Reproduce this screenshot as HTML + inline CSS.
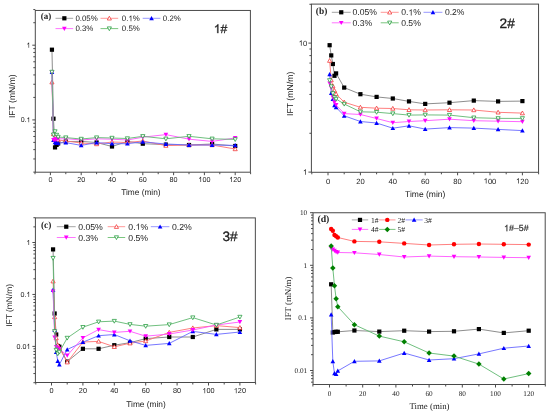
<!DOCTYPE html>
<html><head><meta charset="utf-8"><title>IFT vs time</title>
<style>
html,body{margin:0;padding:0;background:#fff;}
body{width:550px;height:415px;overflow:hidden;font-family:"Liberation Sans", sans-serif;}
svg{display:block;-webkit-font-smoothing:antialiased;will-change:transform;text-rendering:geometricPrecision;}
text{-webkit-font-smoothing:antialiased;}
</style></head><body>
<svg width="550" height="415" viewBox="0 0 550 415"><polyline points="51.94,49.7 53.48,118.7 55.02,147.4 56.56,144.9 58.1,143.5 65.8,141.5 81.2,141.4 96.6,142.5 112,146.5 127.4,141.4 142.8,143.7 165.9,144.6 189,145 212.1,144 235.2,146" fill="none" stroke="#808080" stroke-width="0.9"/><rect x="49.84" y="47.6" width="4.2" height="4.2" fill="#000000"/><rect x="51.38" y="116.6" width="4.2" height="4.2" fill="#000000"/><rect x="52.92" y="145.3" width="4.2" height="4.2" fill="#000000"/><rect x="54.46" y="142.8" width="4.2" height="4.2" fill="#000000"/><rect x="56" y="141.4" width="4.2" height="4.2" fill="#000000"/><rect x="63.7" y="139.4" width="4.2" height="4.2" fill="#000000"/><rect x="79.1" y="139.3" width="4.2" height="4.2" fill="#000000"/><rect x="94.5" y="140.4" width="4.2" height="4.2" fill="#000000"/><rect x="109.9" y="144.4" width="4.2" height="4.2" fill="#000000"/><rect x="125.3" y="139.3" width="4.2" height="4.2" fill="#000000"/><rect x="140.7" y="141.6" width="4.2" height="4.2" fill="#000000"/><rect x="163.8" y="142.5" width="4.2" height="4.2" fill="#000000"/><rect x="186.9" y="142.9" width="4.2" height="4.2" fill="#000000"/><rect x="210" y="141.9" width="4.2" height="4.2" fill="#000000"/><rect x="233.1" y="143.9" width="4.2" height="4.2" fill="#000000"/><polyline points="51.94,82.2 53.48,134 55.02,139.5 56.56,140.5 58.1,140 65.8,141 81.2,143 96.6,144 112,142 127.4,142.5 142.8,141 165.9,145.6 189,145 212.1,145 235.2,149" fill="none" stroke="#ff7070" stroke-width="0.9"/><path d="M51.94 80.12L54.02 83.9L49.86 83.9Z" fill="#fff" stroke="#f03030" stroke-width="0.75"/><path d="M53.48 131.92L55.56 135.7L51.4 135.7Z" fill="#fff" stroke="#f03030" stroke-width="0.75"/><path d="M55.02 137.42L57.1 141.2L52.94 141.2Z" fill="#fff" stroke="#f03030" stroke-width="0.75"/><path d="M56.56 138.42L58.64 142.2L54.48 142.2Z" fill="#fff" stroke="#f03030" stroke-width="0.75"/><path d="M58.1 137.92L60.18 141.7L56.02 141.7Z" fill="#fff" stroke="#f03030" stroke-width="0.75"/><path d="M65.8 138.92L67.88 142.7L63.72 142.7Z" fill="#fff" stroke="#f03030" stroke-width="0.75"/><path d="M81.2 140.92L83.28 144.7L79.12 144.7Z" fill="#fff" stroke="#f03030" stroke-width="0.75"/><path d="M96.6 141.92L98.68 145.7L94.52 145.7Z" fill="#fff" stroke="#f03030" stroke-width="0.75"/><path d="M112 139.92L114.08 143.7L109.92 143.7Z" fill="#fff" stroke="#f03030" stroke-width="0.75"/><path d="M127.4 140.42L129.48 144.2L125.32 144.2Z" fill="#fff" stroke="#f03030" stroke-width="0.75"/><path d="M142.8 138.92L144.88 142.7L140.72 142.7Z" fill="#fff" stroke="#f03030" stroke-width="0.75"/><path d="M165.9 143.52L167.98 147.3L163.82 147.3Z" fill="#fff" stroke="#f03030" stroke-width="0.75"/><path d="M189 142.92L191.08 146.7L186.92 146.7Z" fill="#fff" stroke="#f03030" stroke-width="0.75"/><path d="M212.1 142.92L214.18 146.7L210.02 146.7Z" fill="#fff" stroke="#f03030" stroke-width="0.75"/><path d="M235.2 146.92L237.28 150.7L233.12 150.7Z" fill="#fff" stroke="#f03030" stroke-width="0.75"/><polyline points="51.94,72 53.48,140 55.02,142.3 56.56,143 58.1,143 65.8,142.6 81.2,145.4 96.6,142.6 112,143.7 127.4,143.7 142.8,141.9 165.9,144 189,145 212.1,145 235.2,145.4" fill="none" stroke="#6868ff" stroke-width="0.9"/><path d="M51.94 69.69L54.25 73.89L49.63 73.89Z" fill="#0000ff"/><path d="M53.48 137.69L55.79 141.89L51.17 141.89Z" fill="#0000ff"/><path d="M55.02 139.99L57.33 144.19L52.71 144.19Z" fill="#0000ff"/><path d="M56.56 140.69L58.87 144.89L54.25 144.89Z" fill="#0000ff"/><path d="M58.1 140.69L60.41 144.89L55.79 144.89Z" fill="#0000ff"/><path d="M65.8 140.29L68.11 144.49L63.49 144.49Z" fill="#0000ff"/><path d="M81.2 143.09L83.51 147.29L78.89 147.29Z" fill="#0000ff"/><path d="M96.6 140.29L98.91 144.49L94.29 144.49Z" fill="#0000ff"/><path d="M112 141.39L114.31 145.59L109.69 145.59Z" fill="#0000ff"/><path d="M127.4 141.39L129.71 145.59L125.09 145.59Z" fill="#0000ff"/><path d="M142.8 139.59L145.11 143.79L140.49 143.79Z" fill="#0000ff"/><path d="M165.9 141.69L168.21 145.89L163.59 145.89Z" fill="#0000ff"/><path d="M189 142.69L191.31 146.89L186.69 146.89Z" fill="#0000ff"/><path d="M212.1 142.69L214.41 146.89L209.79 146.89Z" fill="#0000ff"/><path d="M235.2 143.09L237.51 147.29L232.89 147.29Z" fill="#0000ff"/><polyline points="51.94,72.5 53.48,139.8 55.02,140 56.56,139 58.1,139 65.8,138.6 81.2,140 96.6,138.8 112,139.2 127.4,140 142.8,137.2 165.9,134.6 189,139.2 212.1,141.4 235.2,138" fill="none" stroke="#ff55ff" stroke-width="0.9"/><path d="M51.94 74.81L54.25 70.61L49.63 70.61Z" fill="#ff00ff"/><path d="M53.48 142.11L55.79 137.91L51.17 137.91Z" fill="#ff00ff"/><path d="M55.02 142.31L57.33 138.11L52.71 138.11Z" fill="#ff00ff"/><path d="M56.56 141.31L58.87 137.11L54.25 137.11Z" fill="#ff00ff"/><path d="M58.1 141.31L60.41 137.11L55.79 137.11Z" fill="#ff00ff"/><path d="M65.8 140.91L68.11 136.71L63.49 136.71Z" fill="#ff00ff"/><path d="M81.2 142.31L83.51 138.11L78.89 138.11Z" fill="#ff00ff"/><path d="M96.6 141.11L98.91 136.91L94.29 136.91Z" fill="#ff00ff"/><path d="M112 141.51L114.31 137.31L109.69 137.31Z" fill="#ff00ff"/><path d="M127.4 142.31L129.71 138.11L125.09 138.11Z" fill="#ff00ff"/><path d="M142.8 139.51L145.11 135.31L140.49 135.31Z" fill="#ff00ff"/><path d="M165.9 136.91L168.21 132.71L163.59 132.71Z" fill="#ff00ff"/><path d="M189 141.51L191.31 137.31L186.69 137.31Z" fill="#ff00ff"/><path d="M212.1 143.71L214.41 139.51L209.79 139.51Z" fill="#ff00ff"/><path d="M235.2 140.31L237.51 136.11L232.89 136.11Z" fill="#ff00ff"/><polyline points="51.94,72 53.48,134.7 55.02,131.5 56.56,135 58.1,137 65.8,137.6 81.2,139 96.6,137.6 112,138 127.4,138.5 142.8,136.3 165.9,138.8 189,136.3 212.1,138.8 235.2,139.4" fill="none" stroke="#60b870" stroke-width="0.9"/><path d="M51.94 74.08L54.02 70.3L49.86 70.3Z" fill="#fff" stroke="#1f9a3a" stroke-width="0.75"/><path d="M53.48 136.78L55.56 133L51.4 133Z" fill="#fff" stroke="#1f9a3a" stroke-width="0.75"/><path d="M55.02 133.58L57.1 129.8L52.94 129.8Z" fill="#fff" stroke="#1f9a3a" stroke-width="0.75"/><path d="M56.56 137.08L58.64 133.3L54.48 133.3Z" fill="#fff" stroke="#1f9a3a" stroke-width="0.75"/><path d="M58.1 139.08L60.18 135.3L56.02 135.3Z" fill="#fff" stroke="#1f9a3a" stroke-width="0.75"/><path d="M65.8 139.68L67.88 135.9L63.72 135.9Z" fill="#fff" stroke="#1f9a3a" stroke-width="0.75"/><path d="M81.2 141.08L83.28 137.3L79.12 137.3Z" fill="#fff" stroke="#1f9a3a" stroke-width="0.75"/><path d="M96.6 139.68L98.68 135.9L94.52 135.9Z" fill="#fff" stroke="#1f9a3a" stroke-width="0.75"/><path d="M112 140.08L114.08 136.3L109.92 136.3Z" fill="#fff" stroke="#1f9a3a" stroke-width="0.75"/><path d="M127.4 140.58L129.48 136.8L125.32 136.8Z" fill="#fff" stroke="#1f9a3a" stroke-width="0.75"/><path d="M142.8 138.38L144.88 134.6L140.72 134.6Z" fill="#fff" stroke="#1f9a3a" stroke-width="0.75"/><path d="M165.9 140.88L167.98 137.1L163.82 137.1Z" fill="#fff" stroke="#1f9a3a" stroke-width="0.75"/><path d="M189 138.38L191.08 134.6L186.92 134.6Z" fill="#fff" stroke="#1f9a3a" stroke-width="0.75"/><path d="M212.1 140.88L214.18 137.1L210.02 137.1Z" fill="#fff" stroke="#1f9a3a" stroke-width="0.75"/><path d="M235.2 141.48L237.28 137.7L233.12 137.7Z" fill="#fff" stroke="#1f9a3a" stroke-width="0.75"/><rect x="35.3" y="10.45" width="215.1" height="161.75" fill="none" stroke="#4a4a4a" stroke-width="1"/><line x1="35" y1="172.2" x2="35" y2="174.2" stroke="#4a4a4a" stroke-width="1"/><line x1="50.4" y1="172.2" x2="50.4" y2="175.2" stroke="#4a4a4a" stroke-width="1"/><text x="50.4" y="182" font-family='"Liberation Sans", sans-serif' font-size="7.2" text-anchor="middle" font-weight="normal" fill="#222">0</text><line x1="65.8" y1="172.2" x2="65.8" y2="174.2" stroke="#4a4a4a" stroke-width="1"/><line x1="81.2" y1="172.2" x2="81.2" y2="175.2" stroke="#4a4a4a" stroke-width="1"/><text x="81.2" y="182" font-family='"Liberation Sans", sans-serif' font-size="7.2" text-anchor="middle" font-weight="normal" fill="#222">20</text><line x1="96.6" y1="172.2" x2="96.6" y2="174.2" stroke="#4a4a4a" stroke-width="1"/><line x1="112" y1="172.2" x2="112" y2="175.2" stroke="#4a4a4a" stroke-width="1"/><text x="112" y="182" font-family='"Liberation Sans", sans-serif' font-size="7.2" text-anchor="middle" font-weight="normal" fill="#222">40</text><line x1="127.4" y1="172.2" x2="127.4" y2="174.2" stroke="#4a4a4a" stroke-width="1"/><line x1="142.8" y1="172.2" x2="142.8" y2="175.2" stroke="#4a4a4a" stroke-width="1"/><text x="142.8" y="182" font-family='"Liberation Sans", sans-serif' font-size="7.2" text-anchor="middle" font-weight="normal" fill="#222">60</text><line x1="158.2" y1="172.2" x2="158.2" y2="174.2" stroke="#4a4a4a" stroke-width="1"/><line x1="173.6" y1="172.2" x2="173.6" y2="175.2" stroke="#4a4a4a" stroke-width="1"/><text x="173.6" y="182" font-family='"Liberation Sans", sans-serif' font-size="7.2" text-anchor="middle" font-weight="normal" fill="#222">80</text><line x1="189" y1="172.2" x2="189" y2="174.2" stroke="#4a4a4a" stroke-width="1"/><line x1="204.4" y1="172.2" x2="204.4" y2="175.2" stroke="#4a4a4a" stroke-width="1"/><path d="M763 0L583 0L583 1147Q518 1085 412 1023Q307 961 223 930L223 1104Q374 1175 487 1276Q600 1377 647 1472L763 1472Z" transform="translate(198.4 182) scale(0.003516 -0.003516)" fill="#222"/><text x="202.4" y="182" font-family='"Liberation Sans", sans-serif' font-size="7.2" text-anchor="start" font-weight="normal" fill="#222">00</text><line x1="219.8" y1="172.2" x2="219.8" y2="174.2" stroke="#4a4a4a" stroke-width="1"/><line x1="235.2" y1="172.2" x2="235.2" y2="175.2" stroke="#4a4a4a" stroke-width="1"/><path d="M763 0L583 0L583 1147Q518 1085 412 1023Q307 961 223 930L223 1104Q374 1175 487 1276Q600 1377 647 1472L763 1472Z" transform="translate(229.2 182) scale(0.003516 -0.003516)" fill="#222"/><text x="233.2" y="182" font-family='"Liberation Sans", sans-serif' font-size="7.2" text-anchor="start" font-weight="normal" fill="#222">20</text><line x1="250.6" y1="172.2" x2="250.6" y2="174.2" stroke="#4a4a4a" stroke-width="1"/><line x1="33.3" y1="172.11" x2="35.3" y2="172.11" stroke="#4a4a4a" stroke-width="1"/><line x1="33.3" y1="158.96" x2="35.3" y2="158.96" stroke="#4a4a4a" stroke-width="1"/><line x1="33.3" y1="149.63" x2="35.3" y2="149.63" stroke="#4a4a4a" stroke-width="1"/><line x1="33.3" y1="142.39" x2="35.3" y2="142.39" stroke="#4a4a4a" stroke-width="1"/><line x1="33.3" y1="136.47" x2="35.3" y2="136.47" stroke="#4a4a4a" stroke-width="1"/><line x1="33.3" y1="131.47" x2="35.3" y2="131.47" stroke="#4a4a4a" stroke-width="1"/><line x1="33.3" y1="127.14" x2="35.3" y2="127.14" stroke="#4a4a4a" stroke-width="1"/><line x1="33.3" y1="123.32" x2="35.3" y2="123.32" stroke="#4a4a4a" stroke-width="1"/><line x1="32.3" y1="119.9" x2="35.3" y2="119.9" stroke="#4a4a4a" stroke-width="1"/><text x="20.67" y="122.35" font-family='"Liberation Sans", sans-serif' font-size="7.0" text-anchor="start" font-weight="normal" fill="#222">0.</text><path d="M763 0L583 0L583 1147Q518 1085 412 1023Q307 961 223 930L223 1104Q374 1175 487 1276Q600 1377 647 1472L763 1472Z" transform="translate(26.51 122.35) scale(0.003418 -0.003418)" fill="#222"/><line x1="33.3" y1="97.41" x2="35.3" y2="97.41" stroke="#4a4a4a" stroke-width="1"/><line x1="33.3" y1="84.26" x2="35.3" y2="84.26" stroke="#4a4a4a" stroke-width="1"/><line x1="33.3" y1="74.93" x2="35.3" y2="74.93" stroke="#4a4a4a" stroke-width="1"/><line x1="33.3" y1="67.69" x2="35.3" y2="67.69" stroke="#4a4a4a" stroke-width="1"/><line x1="33.3" y1="61.77" x2="35.3" y2="61.77" stroke="#4a4a4a" stroke-width="1"/><line x1="33.3" y1="56.77" x2="35.3" y2="56.77" stroke="#4a4a4a" stroke-width="1"/><line x1="33.3" y1="52.44" x2="35.3" y2="52.44" stroke="#4a4a4a" stroke-width="1"/><line x1="33.3" y1="48.62" x2="35.3" y2="48.62" stroke="#4a4a4a" stroke-width="1"/><line x1="32.3" y1="45.2" x2="35.3" y2="45.2" stroke="#4a4a4a" stroke-width="1"/><path d="M763 0L583 0L583 1147Q518 1085 412 1023Q307 961 223 930L223 1104Q374 1175 487 1276Q600 1377 647 1472L763 1472Z" transform="translate(26.51 47.65) scale(0.003418 -0.003418)" fill="#222"/><line x1="33.3" y1="22.71" x2="35.3" y2="22.71" stroke="#4a4a4a" stroke-width="1"/><line x1="33.3" y1="9.56" x2="35.3" y2="9.56" stroke="#4a4a4a" stroke-width="1"/><text x="14.8" y="96.2" font-family='"Liberation Sans", sans-serif' font-size="8.6" text-anchor="middle" fill="#222" transform="rotate(-90 14.8 96.2)">IFT (mN/m)</text><text x="140.9" y="195" font-family='"Liberation Sans", sans-serif' font-size="8.3" text-anchor="middle" font-weight="normal" fill="#222">Time (min)</text><text x="40.7" y="19" font-family='"Liberation Serif", serif' font-size="9.0" text-anchor="start" font-weight="bold" fill="#222">(a)</text><path d="M763 0L583 0L583 1147Q518 1085 412 1023Q307 961 223 930L223 1104Q374 1175 487 1276Q600 1377 647 1472L763 1472Z" transform="translate(213.8 33.1) scale(0.005957 -0.005957)" fill="#222" stroke="#222" stroke-width="50.36"/><text x="220.58" y="33.1" font-family='"Liberation Sans", sans-serif' font-size="12.2" text-anchor="start" font-weight="normal" fill="#222" stroke="#222" stroke-width="0.3">#</text><line x1="55.5" y1="18.3" x2="73.2" y2="18.3" stroke="#9a9a9a" stroke-width="0.9"/><rect x="62.25" y="16.2" width="4.2" height="4.2" fill="#000000"/><text x="75.4" y="21.14" font-family='"Liberation Sans", sans-serif' font-size="7.9" text-anchor="start" font-weight="normal" fill="#222">0.05%</text><line x1="100.5" y1="18.3" x2="118.2" y2="18.3" stroke="#ff8c8c" stroke-width="0.9"/><path d="M109.35 16.22L111.43 20L107.27 20Z" fill="#fff" stroke="#f03030" stroke-width="0.75"/><text x="121.8" y="21.14" font-family='"Liberation Sans", sans-serif' font-size="7.9" text-anchor="start" font-weight="normal" fill="#222">0.</text><path d="M763 0L583 0L583 1147Q518 1085 412 1023Q307 961 223 930L223 1104Q374 1175 487 1276Q600 1377 647 1472L763 1472Z" transform="translate(128.39 21.14) scale(0.003857 -0.003857)" fill="#222"/><text x="132.78" y="21.14" font-family='"Liberation Sans", sans-serif' font-size="7.9" text-anchor="start" font-weight="normal" fill="#222">%</text><line x1="142.7" y1="18.3" x2="160.4" y2="18.3" stroke="#8c8cff" stroke-width="0.9"/><path d="M151.55 15.99L153.86 20.19L149.24 20.19Z" fill="#0000ff"/><text x="162.8" y="21.14" font-family='"Liberation Sans", sans-serif' font-size="7.9" text-anchor="start" font-weight="normal" fill="#222">0.2%</text><line x1="55.5" y1="28.6" x2="73.2" y2="28.6" stroke="#ff66ff" stroke-width="0.9"/><path d="M64.35 30.91L66.66 26.71L62.04 26.71Z" fill="#ff00ff"/><text x="75.4" y="31.44" font-family='"Liberation Sans", sans-serif' font-size="7.9" text-anchor="start" font-weight="normal" fill="#222">0.3%</text><line x1="100.5" y1="28.6" x2="118.2" y2="28.6" stroke="#6cc070" stroke-width="0.9"/><path d="M109.35 30.68L111.43 26.9L107.27 26.9Z" fill="#fff" stroke="#1f9a3a" stroke-width="0.75"/><text x="121.8" y="31.44" font-family='"Liberation Sans", sans-serif' font-size="7.9" text-anchor="start" font-weight="normal" fill="#222">0.5%</text><polyline points="329.62,45.2 331.24,55.4 332.86,64 334.48,75.8 336.1,73.4 344.2,87.6 360.4,94.2 376.6,96.9 392.8,98.5 409,101.4 425.2,103.9 449.5,102.7 473.8,100.6 498.1,101.4 522.4,101.1" fill="none" stroke="#808080" stroke-width="0.9"/><rect x="327.52" y="43.1" width="4.2" height="4.2" fill="#000000"/><rect x="329.14" y="53.3" width="4.2" height="4.2" fill="#000000"/><rect x="330.76" y="61.9" width="4.2" height="4.2" fill="#000000"/><rect x="332.38" y="73.7" width="4.2" height="4.2" fill="#000000"/><rect x="334" y="71.3" width="4.2" height="4.2" fill="#000000"/><rect x="342.1" y="85.5" width="4.2" height="4.2" fill="#000000"/><rect x="358.3" y="92.1" width="4.2" height="4.2" fill="#000000"/><rect x="374.5" y="94.8" width="4.2" height="4.2" fill="#000000"/><rect x="390.7" y="96.4" width="4.2" height="4.2" fill="#000000"/><rect x="406.9" y="99.3" width="4.2" height="4.2" fill="#000000"/><rect x="423.1" y="101.8" width="4.2" height="4.2" fill="#000000"/><rect x="447.4" y="100.6" width="4.2" height="4.2" fill="#000000"/><rect x="471.7" y="98.5" width="4.2" height="4.2" fill="#000000"/><rect x="496" y="99.3" width="4.2" height="4.2" fill="#000000"/><rect x="520.3" y="99" width="4.2" height="4.2" fill="#000000"/><polyline points="329.62,60.6 331.24,80 332.86,86 334.48,90.5 336.1,94 344.2,102.2 360.4,107.3 376.6,108.2 392.8,108.5 409,109.8 425.2,110 449.5,109.8 473.8,110 498.1,112.3 522.4,113.1" fill="none" stroke="#ff7070" stroke-width="0.9"/><path d="M329.62 58.52L331.7 62.3L327.54 62.3Z" fill="#fff" stroke="#f03030" stroke-width="0.75"/><path d="M331.24 77.92L333.32 81.7L329.16 81.7Z" fill="#fff" stroke="#f03030" stroke-width="0.75"/><path d="M332.86 83.92L334.94 87.7L330.78 87.7Z" fill="#fff" stroke="#f03030" stroke-width="0.75"/><path d="M334.48 88.42L336.56 92.2L332.4 92.2Z" fill="#fff" stroke="#f03030" stroke-width="0.75"/><path d="M336.1 91.92L338.18 95.7L334.02 95.7Z" fill="#fff" stroke="#f03030" stroke-width="0.75"/><path d="M344.2 100.12L346.28 103.9L342.12 103.9Z" fill="#fff" stroke="#f03030" stroke-width="0.75"/><path d="M360.4 105.22L362.48 109L358.32 109Z" fill="#fff" stroke="#f03030" stroke-width="0.75"/><path d="M376.6 106.12L378.68 109.9L374.52 109.9Z" fill="#fff" stroke="#f03030" stroke-width="0.75"/><path d="M392.8 106.42L394.88 110.2L390.72 110.2Z" fill="#fff" stroke="#f03030" stroke-width="0.75"/><path d="M409 107.72L411.08 111.5L406.92 111.5Z" fill="#fff" stroke="#f03030" stroke-width="0.75"/><path d="M425.2 107.92L427.28 111.7L423.12 111.7Z" fill="#fff" stroke="#f03030" stroke-width="0.75"/><path d="M449.5 107.72L451.58 111.5L447.42 111.5Z" fill="#fff" stroke="#f03030" stroke-width="0.75"/><path d="M473.8 107.92L475.88 111.7L471.72 111.7Z" fill="#fff" stroke="#f03030" stroke-width="0.75"/><path d="M498.1 110.22L500.18 114L496.02 114Z" fill="#fff" stroke="#f03030" stroke-width="0.75"/><path d="M522.4 111.02L524.48 114.8L520.32 114.8Z" fill="#fff" stroke="#f03030" stroke-width="0.75"/><polyline points="329.62,74.4 331.24,93 332.86,99 334.48,105.3 336.1,107.4 344.2,115.8 360.4,121.5 376.6,123 392.8,128.2 409,125.8 425.2,129.1 449.5,127.6 473.8,128.1 498.1,129.4 522.4,130.6" fill="none" stroke="#6868ff" stroke-width="0.9"/><path d="M329.62 72.09L331.93 76.29L327.31 76.29Z" fill="#0000ff"/><path d="M331.24 90.69L333.55 94.89L328.93 94.89Z" fill="#0000ff"/><path d="M332.86 96.69L335.17 100.89L330.55 100.89Z" fill="#0000ff"/><path d="M334.48 102.99L336.79 107.19L332.17 107.19Z" fill="#0000ff"/><path d="M336.1 105.09L338.41 109.29L333.79 109.29Z" fill="#0000ff"/><path d="M344.2 113.49L346.51 117.69L341.89 117.69Z" fill="#0000ff"/><path d="M360.4 119.19L362.71 123.39L358.09 123.39Z" fill="#0000ff"/><path d="M376.6 120.69L378.91 124.89L374.29 124.89Z" fill="#0000ff"/><path d="M392.8 125.89L395.11 130.09L390.49 130.09Z" fill="#0000ff"/><path d="M409 123.49L411.31 127.69L406.69 127.69Z" fill="#0000ff"/><path d="M425.2 126.79L427.51 130.99L422.89 130.99Z" fill="#0000ff"/><path d="M449.5 125.29L451.81 129.49L447.19 129.49Z" fill="#0000ff"/><path d="M473.8 125.79L476.11 129.99L471.49 129.99Z" fill="#0000ff"/><path d="M498.1 127.09L500.41 131.29L495.79 131.29Z" fill="#0000ff"/><path d="M522.4 128.29L524.71 132.49L520.09 132.49Z" fill="#0000ff"/><polyline points="329.62,83.3 331.24,88 332.86,97.2 334.48,102.3 336.1,105 344.2,113.6 360.4,114.5 376.6,118.5 392.8,122.7 409,121.5 425.2,120.7 449.5,119.2 473.8,120.7 498.1,121.2 522.4,121.7" fill="none" stroke="#ff55ff" stroke-width="0.9"/><path d="M329.62 85.61L331.93 81.41L327.31 81.41Z" fill="#ff00ff"/><path d="M331.24 90.31L333.55 86.11L328.93 86.11Z" fill="#ff00ff"/><path d="M332.86 99.51L335.17 95.31L330.55 95.31Z" fill="#ff00ff"/><path d="M334.48 104.61L336.79 100.41L332.17 100.41Z" fill="#ff00ff"/><path d="M336.1 107.31L338.41 103.11L333.79 103.11Z" fill="#ff00ff"/><path d="M344.2 115.91L346.51 111.71L341.89 111.71Z" fill="#ff00ff"/><path d="M360.4 116.81L362.71 112.61L358.09 112.61Z" fill="#ff00ff"/><path d="M376.6 120.81L378.91 116.61L374.29 116.61Z" fill="#ff00ff"/><path d="M392.8 125.01L395.11 120.81L390.49 120.81Z" fill="#ff00ff"/><path d="M409 123.81L411.31 119.61L406.69 119.61Z" fill="#ff00ff"/><path d="M425.2 123.01L427.51 118.81L422.89 118.81Z" fill="#ff00ff"/><path d="M449.5 121.51L451.81 117.31L447.19 117.31Z" fill="#ff00ff"/><path d="M473.8 123.01L476.11 118.81L471.49 118.81Z" fill="#ff00ff"/><path d="M498.1 123.51L500.41 119.31L495.79 119.31Z" fill="#ff00ff"/><path d="M522.4 124.01L524.71 119.81L520.09 119.81Z" fill="#ff00ff"/><polyline points="329.62,80.4 331.24,86.6 332.86,93.4 334.48,97.4 336.1,99 344.2,104 360.4,111.8 376.6,112.2 392.8,113.6 409,115.1 425.2,114.9 449.5,115.1 473.8,117.7 498.1,118.4 522.4,118.4" fill="none" stroke="#60b870" stroke-width="0.9"/><path d="M329.62 82.48L331.7 78.7L327.54 78.7Z" fill="#fff" stroke="#1f9a3a" stroke-width="0.75"/><path d="M331.24 88.68L333.32 84.9L329.16 84.9Z" fill="#fff" stroke="#1f9a3a" stroke-width="0.75"/><path d="M332.86 95.48L334.94 91.7L330.78 91.7Z" fill="#fff" stroke="#1f9a3a" stroke-width="0.75"/><path d="M334.48 99.48L336.56 95.7L332.4 95.7Z" fill="#fff" stroke="#1f9a3a" stroke-width="0.75"/><path d="M336.1 101.08L338.18 97.3L334.02 97.3Z" fill="#fff" stroke="#1f9a3a" stroke-width="0.75"/><path d="M344.2 106.08L346.28 102.3L342.12 102.3Z" fill="#fff" stroke="#1f9a3a" stroke-width="0.75"/><path d="M360.4 113.88L362.48 110.1L358.32 110.1Z" fill="#fff" stroke="#1f9a3a" stroke-width="0.75"/><path d="M376.6 114.28L378.68 110.5L374.52 110.5Z" fill="#fff" stroke="#1f9a3a" stroke-width="0.75"/><path d="M392.8 115.68L394.88 111.9L390.72 111.9Z" fill="#fff" stroke="#1f9a3a" stroke-width="0.75"/><path d="M409 117.18L411.08 113.4L406.92 113.4Z" fill="#fff" stroke="#1f9a3a" stroke-width="0.75"/><path d="M425.2 116.98L427.28 113.2L423.12 113.2Z" fill="#fff" stroke="#1f9a3a" stroke-width="0.75"/><path d="M449.5 117.18L451.58 113.4L447.42 113.4Z" fill="#fff" stroke="#1f9a3a" stroke-width="0.75"/><path d="M473.8 119.78L475.88 116L471.72 116Z" fill="#fff" stroke="#1f9a3a" stroke-width="0.75"/><path d="M498.1 120.48L500.18 116.7L496.02 116.7Z" fill="#fff" stroke="#1f9a3a" stroke-width="0.75"/><path d="M522.4 120.48L524.48 116.7L520.32 116.7Z" fill="#fff" stroke="#1f9a3a" stroke-width="0.75"/><rect x="311.4" y="4.1" width="227.15" height="168.2" fill="none" stroke="#4a4a4a" stroke-width="1"/><line x1="311.8" y1="172.3" x2="311.8" y2="174.3" stroke="#4a4a4a" stroke-width="1"/><line x1="328" y1="172.3" x2="328" y2="175.3" stroke="#4a4a4a" stroke-width="1"/><text x="328" y="183.6" font-family='"Liberation Sans", sans-serif' font-size="7.6" text-anchor="middle" font-weight="normal" fill="#222">0</text><line x1="344.2" y1="172.3" x2="344.2" y2="174.3" stroke="#4a4a4a" stroke-width="1"/><line x1="360.4" y1="172.3" x2="360.4" y2="175.3" stroke="#4a4a4a" stroke-width="1"/><text x="360.4" y="183.6" font-family='"Liberation Sans", sans-serif' font-size="7.6" text-anchor="middle" font-weight="normal" fill="#222">20</text><line x1="376.6" y1="172.3" x2="376.6" y2="174.3" stroke="#4a4a4a" stroke-width="1"/><line x1="392.8" y1="172.3" x2="392.8" y2="175.3" stroke="#4a4a4a" stroke-width="1"/><text x="392.8" y="183.6" font-family='"Liberation Sans", sans-serif' font-size="7.6" text-anchor="middle" font-weight="normal" fill="#222">40</text><line x1="409" y1="172.3" x2="409" y2="174.3" stroke="#4a4a4a" stroke-width="1"/><line x1="425.2" y1="172.3" x2="425.2" y2="175.3" stroke="#4a4a4a" stroke-width="1"/><text x="425.2" y="183.6" font-family='"Liberation Sans", sans-serif' font-size="7.6" text-anchor="middle" font-weight="normal" fill="#222">60</text><line x1="441.4" y1="172.3" x2="441.4" y2="174.3" stroke="#4a4a4a" stroke-width="1"/><line x1="457.6" y1="172.3" x2="457.6" y2="175.3" stroke="#4a4a4a" stroke-width="1"/><text x="457.6" y="183.6" font-family='"Liberation Sans", sans-serif' font-size="7.6" text-anchor="middle" font-weight="normal" fill="#222">80</text><line x1="473.8" y1="172.3" x2="473.8" y2="174.3" stroke="#4a4a4a" stroke-width="1"/><line x1="490" y1="172.3" x2="490" y2="175.3" stroke="#4a4a4a" stroke-width="1"/><path d="M763 0L583 0L583 1147Q518 1085 412 1023Q307 961 223 930L223 1104Q374 1175 487 1276Q600 1377 647 1472L763 1472Z" transform="translate(483.66 183.6) scale(0.003711 -0.003711)" fill="#222"/><text x="487.89" y="183.6" font-family='"Liberation Sans", sans-serif' font-size="7.6" text-anchor="start" font-weight="normal" fill="#222">00</text><line x1="506.2" y1="172.3" x2="506.2" y2="174.3" stroke="#4a4a4a" stroke-width="1"/><line x1="522.4" y1="172.3" x2="522.4" y2="175.3" stroke="#4a4a4a" stroke-width="1"/><path d="M763 0L583 0L583 1147Q518 1085 412 1023Q307 961 223 930L223 1104Q374 1175 487 1276Q600 1377 647 1472L763 1472Z" transform="translate(516.06 183.6) scale(0.003711 -0.003711)" fill="#222"/><text x="520.29" y="183.6" font-family='"Liberation Sans", sans-serif' font-size="7.6" text-anchor="start" font-weight="normal" fill="#222">20</text><line x1="538.6" y1="172.3" x2="538.6" y2="174.3" stroke="#4a4a4a" stroke-width="1"/><line x1="308.4" y1="172.1" x2="311.4" y2="172.1" stroke="#4a4a4a" stroke-width="1"/><path d="M763 0L583 0L583 1147Q518 1085 412 1023Q307 961 223 930L223 1104Q374 1175 487 1276Q600 1377 647 1472L763 1472Z" transform="translate(302.97 174.76) scale(0.003711 -0.003711)" fill="#222"/><line x1="309.4" y1="133.27" x2="311.4" y2="133.27" stroke="#4a4a4a" stroke-width="1"/><line x1="309.4" y1="110.55" x2="311.4" y2="110.55" stroke="#4a4a4a" stroke-width="1"/><line x1="309.4" y1="94.43" x2="311.4" y2="94.43" stroke="#4a4a4a" stroke-width="1"/><line x1="309.4" y1="81.93" x2="311.4" y2="81.93" stroke="#4a4a4a" stroke-width="1"/><line x1="309.4" y1="71.72" x2="311.4" y2="71.72" stroke="#4a4a4a" stroke-width="1"/><line x1="309.4" y1="63.08" x2="311.4" y2="63.08" stroke="#4a4a4a" stroke-width="1"/><line x1="309.4" y1="55.6" x2="311.4" y2="55.6" stroke="#4a4a4a" stroke-width="1"/><line x1="309.4" y1="49" x2="311.4" y2="49" stroke="#4a4a4a" stroke-width="1"/><line x1="308.4" y1="43.1" x2="311.4" y2="43.1" stroke="#4a4a4a" stroke-width="1"/><path d="M763 0L583 0L583 1147Q518 1085 412 1023Q307 961 223 930L223 1104Q374 1175 487 1276Q600 1377 647 1472L763 1472Z" transform="translate(298.75 45.76) scale(0.003711 -0.003711)" fill="#222"/><text x="302.97" y="45.76" font-family='"Liberation Sans", sans-serif' font-size="7.6" text-anchor="start" font-weight="normal" fill="#222">0</text><line x1="309.4" y1="4.27" x2="311.4" y2="4.27" stroke="#4a4a4a" stroke-width="1"/><text x="293.4" y="93.8" font-family='"Liberation Sans", sans-serif' font-size="8.7" text-anchor="middle" fill="#222" transform="rotate(-90 293.4 93.8)">IFT (mN/m)</text><text x="425.2" y="196.8" font-family='"Liberation Sans", sans-serif' font-size="8.5" text-anchor="middle" font-weight="normal" fill="#222">Time (min)</text><text x="315.8" y="13.5" font-family='"Liberation Serif", serif' font-size="9.4" text-anchor="start" font-weight="bold" fill="#222">(b)</text><text x="499.6" y="27.9" font-family='"Liberation Sans", sans-serif' font-size="13.7" text-anchor="start" font-weight="normal" fill="#222" stroke="#222" stroke-width="0.3">2#</text><line x1="331.8" y1="12.3" x2="350.7" y2="12.3" stroke="#9a9a9a" stroke-width="0.9"/><rect x="339.15" y="10.2" width="4.2" height="4.2" fill="#000000"/><text x="352.6" y="15.4" font-family='"Liberation Sans", sans-serif' font-size="8.6" text-anchor="start" font-weight="normal" fill="#222">0.05%</text><line x1="380.7" y1="12.3" x2="398.7" y2="12.3" stroke="#ff8c8c" stroke-width="0.9"/><path d="M389.7 10.22L391.78 14L387.62 14Z" fill="#fff" stroke="#f03030" stroke-width="0.75"/><text x="401.2" y="15.4" font-family='"Liberation Sans", sans-serif' font-size="8.6" text-anchor="start" font-weight="normal" fill="#222">0.</text><path d="M763 0L583 0L583 1147Q518 1085 412 1023Q307 961 223 930L223 1104Q374 1175 487 1276Q600 1377 647 1472L763 1472Z" transform="translate(408.37 15.4) scale(0.004199 -0.004199)" fill="#222"/><text x="413.15" y="15.4" font-family='"Liberation Sans", sans-serif' font-size="8.6" text-anchor="start" font-weight="normal" fill="#222">%</text><line x1="423.5" y1="12.3" x2="442.4" y2="12.3" stroke="#8c8cff" stroke-width="0.9"/><path d="M432.95 9.99L435.26 14.19L430.64 14.19Z" fill="#0000ff"/><text x="444.9" y="15.4" font-family='"Liberation Sans", sans-serif' font-size="8.6" text-anchor="start" font-weight="normal" fill="#222">0.2%</text><line x1="331.8" y1="22.8" x2="350.7" y2="22.8" stroke="#ff66ff" stroke-width="0.9"/><path d="M341.25 25.11L343.56 20.91L338.94 20.91Z" fill="#ff00ff"/><text x="352.6" y="25.9" font-family='"Liberation Sans", sans-serif' font-size="8.6" text-anchor="start" font-weight="normal" fill="#222">0.3%</text><line x1="380.7" y1="22.8" x2="398.7" y2="22.8" stroke="#6cc070" stroke-width="0.9"/><path d="M389.7 24.88L391.78 21.1L387.62 21.1Z" fill="#fff" stroke="#1f9a3a" stroke-width="0.75"/><text x="401.2" y="25.9" font-family='"Liberation Sans", sans-serif' font-size="8.6" text-anchor="start" font-weight="normal" fill="#222">0.5%</text><polyline points="53.07,249.4 54.64,313.5 56.21,334.5 57.78,346 59.35,346.7 67.2,361.6 82.9,348.8 98.6,348.8 114.3,345.2 130,342.7 145.7,338.6 169.25,337 192.8,337 216.35,329.4 239.9,329.4" fill="none" stroke="#808080" stroke-width="0.9"/><rect x="50.97" y="247.3" width="4.2" height="4.2" fill="#000000"/><rect x="52.54" y="311.4" width="4.2" height="4.2" fill="#000000"/><rect x="54.11" y="332.4" width="4.2" height="4.2" fill="#000000"/><rect x="55.68" y="343.9" width="4.2" height="4.2" fill="#000000"/><rect x="57.25" y="344.6" width="4.2" height="4.2" fill="#000000"/><rect x="65.1" y="359.5" width="4.2" height="4.2" fill="#000000"/><rect x="80.8" y="346.7" width="4.2" height="4.2" fill="#000000"/><rect x="96.5" y="346.7" width="4.2" height="4.2" fill="#000000"/><rect x="112.2" y="343.1" width="4.2" height="4.2" fill="#000000"/><rect x="127.9" y="340.6" width="4.2" height="4.2" fill="#000000"/><rect x="143.6" y="336.5" width="4.2" height="4.2" fill="#000000"/><rect x="167.15" y="334.9" width="4.2" height="4.2" fill="#000000"/><rect x="190.7" y="334.9" width="4.2" height="4.2" fill="#000000"/><rect x="214.25" y="327.3" width="4.2" height="4.2" fill="#000000"/><rect x="237.8" y="327.3" width="4.2" height="4.2" fill="#000000"/><polyline points="53.07,281.2 54.64,317 56.21,338 57.78,345 59.35,348 67.2,362.2 82.9,342 98.6,341.4 114.3,346.8 130,343.2 145.7,341 169.25,332.4 192.8,328 216.35,325.6 239.9,327.6" fill="none" stroke="#ff7070" stroke-width="0.9"/><path d="M53.07 279.12L55.15 282.9L50.99 282.9Z" fill="#fff" stroke="#f03030" stroke-width="0.75"/><path d="M54.64 314.92L56.72 318.7L52.56 318.7Z" fill="#fff" stroke="#f03030" stroke-width="0.75"/><path d="M56.21 335.92L58.29 339.7L54.13 339.7Z" fill="#fff" stroke="#f03030" stroke-width="0.75"/><path d="M57.78 342.92L59.86 346.7L55.7 346.7Z" fill="#fff" stroke="#f03030" stroke-width="0.75"/><path d="M59.35 345.92L61.43 349.7L57.27 349.7Z" fill="#fff" stroke="#f03030" stroke-width="0.75"/><path d="M67.2 360.12L69.28 363.9L65.12 363.9Z" fill="#fff" stroke="#f03030" stroke-width="0.75"/><path d="M82.9 339.92L84.98 343.7L80.82 343.7Z" fill="#fff" stroke="#f03030" stroke-width="0.75"/><path d="M98.6 339.32L100.68 343.1L96.52 343.1Z" fill="#fff" stroke="#f03030" stroke-width="0.75"/><path d="M114.3 344.72L116.38 348.5L112.22 348.5Z" fill="#fff" stroke="#f03030" stroke-width="0.75"/><path d="M130 341.12L132.08 344.9L127.92 344.9Z" fill="#fff" stroke="#f03030" stroke-width="0.75"/><path d="M145.7 338.92L147.78 342.7L143.62 342.7Z" fill="#fff" stroke="#f03030" stroke-width="0.75"/><path d="M169.25 330.32L171.33 334.1L167.17 334.1Z" fill="#fff" stroke="#f03030" stroke-width="0.75"/><path d="M192.8 325.92L194.88 329.7L190.72 329.7Z" fill="#fff" stroke="#f03030" stroke-width="0.75"/><path d="M216.35 323.52L218.43 327.3L214.27 327.3Z" fill="#fff" stroke="#f03030" stroke-width="0.75"/><path d="M239.9 325.52L241.98 329.3L237.82 329.3Z" fill="#fff" stroke="#f03030" stroke-width="0.75"/><polyline points="53.07,289.9 54.64,330.2 56.21,352 57.78,361 59.35,364.6 67.2,349.5 82.9,342.2 98.6,335.7 114.3,334.5 130,340.8 145.7,345.4 169.25,343.4 192.8,331.4 216.35,334.4 239.9,332" fill="none" stroke="#6868ff" stroke-width="0.9"/><path d="M53.07 287.59L55.38 291.79L50.76 291.79Z" fill="#0000ff"/><path d="M54.64 327.89L56.95 332.09L52.33 332.09Z" fill="#0000ff"/><path d="M56.21 349.69L58.52 353.89L53.9 353.89Z" fill="#0000ff"/><path d="M57.78 358.69L60.09 362.89L55.47 362.89Z" fill="#0000ff"/><path d="M59.35 362.29L61.66 366.49L57.04 366.49Z" fill="#0000ff"/><path d="M67.2 347.19L69.51 351.39L64.89 351.39Z" fill="#0000ff"/><path d="M82.9 339.89L85.21 344.09L80.59 344.09Z" fill="#0000ff"/><path d="M98.6 333.39L100.91 337.59L96.29 337.59Z" fill="#0000ff"/><path d="M114.3 332.19L116.61 336.39L111.99 336.39Z" fill="#0000ff"/><path d="M130 338.49L132.31 342.69L127.69 342.69Z" fill="#0000ff"/><path d="M145.7 343.09L148.01 347.29L143.39 347.29Z" fill="#0000ff"/><path d="M169.25 341.09L171.56 345.29L166.94 345.29Z" fill="#0000ff"/><path d="M192.8 329.09L195.11 333.29L190.49 333.29Z" fill="#0000ff"/><path d="M216.35 332.09L218.66 336.29L214.04 336.29Z" fill="#0000ff"/><path d="M239.9 329.69L242.21 333.89L237.59 333.89Z" fill="#0000ff"/><polyline points="53.07,291.3 54.64,337.5 56.21,347 57.78,348.5 59.35,349 67.2,355.5 82.9,337.8 98.6,329.6 114.3,332.4 130,331.3 145.7,336.2 169.25,334 192.8,330 216.35,325 239.9,322" fill="none" stroke="#ff55ff" stroke-width="0.9"/><path d="M53.07 293.61L55.38 289.41L50.76 289.41Z" fill="#ff00ff"/><path d="M54.64 339.81L56.95 335.61L52.33 335.61Z" fill="#ff00ff"/><path d="M56.21 349.31L58.52 345.11L53.9 345.11Z" fill="#ff00ff"/><path d="M57.78 350.81L60.09 346.61L55.47 346.61Z" fill="#ff00ff"/><path d="M59.35 351.31L61.66 347.11L57.04 347.11Z" fill="#ff00ff"/><path d="M67.2 357.81L69.51 353.61L64.89 353.61Z" fill="#ff00ff"/><path d="M82.9 340.11L85.21 335.91L80.59 335.91Z" fill="#ff00ff"/><path d="M98.6 331.91L100.91 327.71L96.29 327.71Z" fill="#ff00ff"/><path d="M114.3 334.71L116.61 330.51L111.99 330.51Z" fill="#ff00ff"/><path d="M130 333.61L132.31 329.41L127.69 329.41Z" fill="#ff00ff"/><path d="M145.7 338.51L148.01 334.31L143.39 334.31Z" fill="#ff00ff"/><path d="M169.25 336.31L171.56 332.11L166.94 332.11Z" fill="#ff00ff"/><path d="M192.8 332.31L195.11 328.11L190.49 328.11Z" fill="#ff00ff"/><path d="M216.35 327.31L218.66 323.11L214.04 323.11Z" fill="#ff00ff"/><path d="M239.9 324.31L242.21 320.11L237.59 320.11Z" fill="#ff00ff"/><polyline points="53.07,258.1 54.64,331.4 56.21,350 57.78,353.7 59.35,352 67.2,338 82.9,327.2 98.6,321.8 114.3,321.1 130,324.4 145.7,326.2 169.25,324.6 192.8,317.6 216.35,325 239.9,317" fill="none" stroke="#60b870" stroke-width="0.9"/><path d="M53.07 260.18L55.15 256.4L50.99 256.4Z" fill="#fff" stroke="#1f9a3a" stroke-width="0.75"/><path d="M54.64 333.48L56.72 329.7L52.56 329.7Z" fill="#fff" stroke="#1f9a3a" stroke-width="0.75"/><path d="M56.21 352.08L58.29 348.3L54.13 348.3Z" fill="#fff" stroke="#1f9a3a" stroke-width="0.75"/><path d="M57.78 355.78L59.86 352L55.7 352Z" fill="#fff" stroke="#1f9a3a" stroke-width="0.75"/><path d="M59.35 354.08L61.43 350.3L57.27 350.3Z" fill="#fff" stroke="#1f9a3a" stroke-width="0.75"/><path d="M67.2 340.08L69.28 336.3L65.12 336.3Z" fill="#fff" stroke="#1f9a3a" stroke-width="0.75"/><path d="M82.9 329.28L84.98 325.5L80.82 325.5Z" fill="#fff" stroke="#1f9a3a" stroke-width="0.75"/><path d="M98.6 323.88L100.68 320.1L96.52 320.1Z" fill="#fff" stroke="#1f9a3a" stroke-width="0.75"/><path d="M114.3 323.18L116.38 319.4L112.22 319.4Z" fill="#fff" stroke="#1f9a3a" stroke-width="0.75"/><path d="M130 326.48L132.08 322.7L127.92 322.7Z" fill="#fff" stroke="#1f9a3a" stroke-width="0.75"/><path d="M145.7 328.28L147.78 324.5L143.62 324.5Z" fill="#fff" stroke="#1f9a3a" stroke-width="0.75"/><path d="M169.25 326.68L171.33 322.9L167.17 322.9Z" fill="#fff" stroke="#1f9a3a" stroke-width="0.75"/><path d="M192.8 319.68L194.88 315.9L190.72 315.9Z" fill="#fff" stroke="#1f9a3a" stroke-width="0.75"/><path d="M216.35 327.08L218.43 323.3L214.27 323.3Z" fill="#fff" stroke="#1f9a3a" stroke-width="0.75"/><path d="M239.9 319.08L241.98 315.3L237.82 315.3Z" fill="#fff" stroke="#1f9a3a" stroke-width="0.75"/><rect x="35.4" y="217.9" width="219.95" height="164.6" fill="none" stroke="#4a4a4a" stroke-width="1"/><line x1="35.8" y1="382.5" x2="35.8" y2="384.5" stroke="#4a4a4a" stroke-width="1"/><line x1="51.5" y1="382.5" x2="51.5" y2="385.5" stroke="#4a4a4a" stroke-width="1"/><text x="51.5" y="393.2" font-family='"Liberation Sans", sans-serif' font-size="7.3" text-anchor="middle" font-weight="normal" fill="#222">0</text><line x1="67.2" y1="382.5" x2="67.2" y2="384.5" stroke="#4a4a4a" stroke-width="1"/><line x1="82.9" y1="382.5" x2="82.9" y2="385.5" stroke="#4a4a4a" stroke-width="1"/><text x="82.9" y="393.2" font-family='"Liberation Sans", sans-serif' font-size="7.3" text-anchor="middle" font-weight="normal" fill="#222">20</text><line x1="98.6" y1="382.5" x2="98.6" y2="384.5" stroke="#4a4a4a" stroke-width="1"/><line x1="114.3" y1="382.5" x2="114.3" y2="385.5" stroke="#4a4a4a" stroke-width="1"/><text x="114.3" y="393.2" font-family='"Liberation Sans", sans-serif' font-size="7.3" text-anchor="middle" font-weight="normal" fill="#222">40</text><line x1="130" y1="382.5" x2="130" y2="384.5" stroke="#4a4a4a" stroke-width="1"/><line x1="145.7" y1="382.5" x2="145.7" y2="385.5" stroke="#4a4a4a" stroke-width="1"/><text x="145.7" y="393.2" font-family='"Liberation Sans", sans-serif' font-size="7.3" text-anchor="middle" font-weight="normal" fill="#222">60</text><line x1="161.4" y1="382.5" x2="161.4" y2="384.5" stroke="#4a4a4a" stroke-width="1"/><line x1="177.1" y1="382.5" x2="177.1" y2="385.5" stroke="#4a4a4a" stroke-width="1"/><text x="177.1" y="393.2" font-family='"Liberation Sans", sans-serif' font-size="7.3" text-anchor="middle" font-weight="normal" fill="#222">80</text><line x1="192.8" y1="382.5" x2="192.8" y2="384.5" stroke="#4a4a4a" stroke-width="1"/><line x1="208.5" y1="382.5" x2="208.5" y2="385.5" stroke="#4a4a4a" stroke-width="1"/><path d="M763 0L583 0L583 1147Q518 1085 412 1023Q307 961 223 930L223 1104Q374 1175 487 1276Q600 1377 647 1472L763 1472Z" transform="translate(202.41 393.2) scale(0.003564 -0.003564)" fill="#222"/><text x="206.47" y="393.2" font-family='"Liberation Sans", sans-serif' font-size="7.3" text-anchor="start" font-weight="normal" fill="#222">00</text><line x1="224.2" y1="382.5" x2="224.2" y2="384.5" stroke="#4a4a4a" stroke-width="1"/><line x1="239.9" y1="382.5" x2="239.9" y2="385.5" stroke="#4a4a4a" stroke-width="1"/><path d="M763 0L583 0L583 1147Q518 1085 412 1023Q307 961 223 930L223 1104Q374 1175 487 1276Q600 1377 647 1472L763 1472Z" transform="translate(233.81 393.2) scale(0.003564 -0.003564)" fill="#222"/><text x="237.87" y="393.2" font-family='"Liberation Sans", sans-serif' font-size="7.3" text-anchor="start" font-weight="normal" fill="#222">20</text><line x1="255.6" y1="382.5" x2="255.6" y2="384.5" stroke="#4a4a4a" stroke-width="1"/><line x1="33.4" y1="382.71" x2="35.4" y2="382.71" stroke="#4a4a4a" stroke-width="1"/><line x1="33.4" y1="373.56" x2="35.4" y2="373.56" stroke="#4a4a4a" stroke-width="1"/><line x1="33.4" y1="367.07" x2="35.4" y2="367.07" stroke="#4a4a4a" stroke-width="1"/><line x1="33.4" y1="362.04" x2="35.4" y2="362.04" stroke="#4a4a4a" stroke-width="1"/><line x1="33.4" y1="357.93" x2="35.4" y2="357.93" stroke="#4a4a4a" stroke-width="1"/><line x1="33.4" y1="354.45" x2="35.4" y2="354.45" stroke="#4a4a4a" stroke-width="1"/><line x1="33.4" y1="351.43" x2="35.4" y2="351.43" stroke="#4a4a4a" stroke-width="1"/><line x1="33.4" y1="348.78" x2="35.4" y2="348.78" stroke="#4a4a4a" stroke-width="1"/><line x1="32.4" y1="346.4" x2="35.4" y2="346.4" stroke="#4a4a4a" stroke-width="1"/><text x="16.58" y="348.88" font-family='"Liberation Sans", sans-serif' font-size="7.1" text-anchor="start" font-weight="normal" fill="#222">0.0</text><path d="M763 0L583 0L583 1147Q518 1085 412 1023Q307 961 223 930L223 1104Q374 1175 487 1276Q600 1377 647 1472L763 1472Z" transform="translate(26.45 348.88) scale(0.003467 -0.003467)" fill="#222"/><line x1="33.4" y1="330.76" x2="35.4" y2="330.76" stroke="#4a4a4a" stroke-width="1"/><line x1="33.4" y1="321.61" x2="35.4" y2="321.61" stroke="#4a4a4a" stroke-width="1"/><line x1="33.4" y1="315.12" x2="35.4" y2="315.12" stroke="#4a4a4a" stroke-width="1"/><line x1="33.4" y1="310.09" x2="35.4" y2="310.09" stroke="#4a4a4a" stroke-width="1"/><line x1="33.4" y1="305.98" x2="35.4" y2="305.98" stroke="#4a4a4a" stroke-width="1"/><line x1="33.4" y1="302.5" x2="35.4" y2="302.5" stroke="#4a4a4a" stroke-width="1"/><line x1="33.4" y1="299.48" x2="35.4" y2="299.48" stroke="#4a4a4a" stroke-width="1"/><line x1="33.4" y1="296.83" x2="35.4" y2="296.83" stroke="#4a4a4a" stroke-width="1"/><line x1="32.4" y1="294.45" x2="35.4" y2="294.45" stroke="#4a4a4a" stroke-width="1"/><text x="20.53" y="296.94" font-family='"Liberation Sans", sans-serif' font-size="7.1" text-anchor="start" font-weight="normal" fill="#222">0.</text><path d="M763 0L583 0L583 1147Q518 1085 412 1023Q307 961 223 930L223 1104Q374 1175 487 1276Q600 1377 647 1472L763 1472Z" transform="translate(26.45 296.94) scale(0.003467 -0.003467)" fill="#222"/><line x1="33.4" y1="278.81" x2="35.4" y2="278.81" stroke="#4a4a4a" stroke-width="1"/><line x1="33.4" y1="269.66" x2="35.4" y2="269.66" stroke="#4a4a4a" stroke-width="1"/><line x1="33.4" y1="263.17" x2="35.4" y2="263.17" stroke="#4a4a4a" stroke-width="1"/><line x1="33.4" y1="258.14" x2="35.4" y2="258.14" stroke="#4a4a4a" stroke-width="1"/><line x1="33.4" y1="254.03" x2="35.4" y2="254.03" stroke="#4a4a4a" stroke-width="1"/><line x1="33.4" y1="250.55" x2="35.4" y2="250.55" stroke="#4a4a4a" stroke-width="1"/><line x1="33.4" y1="247.53" x2="35.4" y2="247.53" stroke="#4a4a4a" stroke-width="1"/><line x1="33.4" y1="244.88" x2="35.4" y2="244.88" stroke="#4a4a4a" stroke-width="1"/><line x1="32.4" y1="242.5" x2="35.4" y2="242.5" stroke="#4a4a4a" stroke-width="1"/><path d="M763 0L583 0L583 1147Q518 1085 412 1023Q307 961 223 930L223 1104Q374 1175 487 1276Q600 1377 647 1472L763 1472Z" transform="translate(26.45 244.99) scale(0.003467 -0.003467)" fill="#222"/><line x1="33.4" y1="226.86" x2="35.4" y2="226.86" stroke="#4a4a4a" stroke-width="1"/><line x1="33.4" y1="217.71" x2="35.4" y2="217.71" stroke="#4a4a4a" stroke-width="1"/><text x="12" y="305.4" font-family='"Liberation Sans", sans-serif' font-size="8.4" text-anchor="middle" fill="#222" transform="rotate(-90 12 305.4)">IFT (mN/m)</text><text x="146" y="406.8" font-family='"Liberation Sans", sans-serif' font-size="8.3" text-anchor="middle" font-weight="normal" fill="#222">Time (min)</text><text x="40.9" y="227.7" font-family='"Liberation Serif", serif' font-size="9.4" text-anchor="start" font-weight="bold" fill="#222">(c)</text><text x="222.4" y="241.3" font-family='"Liberation Sans", sans-serif' font-size="13.6" text-anchor="start" font-weight="normal" fill="#222" stroke="#222" stroke-width="0.3">3#</text><line x1="56.8" y1="226.7" x2="75.7" y2="226.7" stroke="#9a9a9a" stroke-width="0.9"/><rect x="64.15" y="224.6" width="4.2" height="4.2" fill="#000000"/><text x="78.2" y="229.83" font-family='"Liberation Sans", sans-serif' font-size="8.7" text-anchor="start" font-weight="normal" fill="#222">0.05%</text><line x1="107.7" y1="226.7" x2="125.2" y2="226.7" stroke="#ff8c8c" stroke-width="0.9"/><path d="M116.45 224.62L118.53 228.4L114.37 228.4Z" fill="#fff" stroke="#f03030" stroke-width="0.75"/><text x="128.3" y="229.83" font-family='"Liberation Sans", sans-serif' font-size="8.7" text-anchor="start" font-weight="normal" fill="#222">0.</text><path d="M763 0L583 0L583 1147Q518 1085 412 1023Q307 961 223 930L223 1104Q374 1175 487 1276Q600 1377 647 1472L763 1472Z" transform="translate(135.56 229.83) scale(0.004248 -0.004248)" fill="#222"/><text x="140.39" y="229.83" font-family='"Liberation Sans", sans-serif' font-size="8.7" text-anchor="start" font-weight="normal" fill="#222">%</text><line x1="150.8" y1="226.7" x2="169.4" y2="226.7" stroke="#8c8cff" stroke-width="0.9"/><path d="M160.1 224.39L162.41 228.59L157.79 228.59Z" fill="#0000ff"/><text x="171.9" y="229.83" font-family='"Liberation Sans", sans-serif' font-size="8.7" text-anchor="start" font-weight="normal" fill="#222">0.2%</text><line x1="56.8" y1="237.5" x2="75.7" y2="237.5" stroke="#ff66ff" stroke-width="0.9"/><path d="M66.25 239.81L68.56 235.61L63.94 235.61Z" fill="#ff00ff"/><text x="78.2" y="240.63" font-family='"Liberation Sans", sans-serif' font-size="8.7" text-anchor="start" font-weight="normal" fill="#222">0.3%</text><line x1="107.7" y1="237.5" x2="125.2" y2="237.5" stroke="#6cc070" stroke-width="0.9"/><path d="M116.45 239.58L118.53 235.8L114.37 235.8Z" fill="#fff" stroke="#1f9a3a" stroke-width="0.75"/><text x="128.3" y="240.63" font-family='"Liberation Sans", sans-serif' font-size="8.7" text-anchor="start" font-weight="normal" fill="#222">0.5%</text><polyline points="331.16,284.3 332.82,332.5 334.48,332 336.14,331.8 337.8,331.8 354.4,330.5 379.3,331.6 404.2,330.7 429.1,331.6 454,331.3 478.9,329.1 503.8,332.9 528.7,330.7" fill="none" stroke="#808080" stroke-width="0.9"/><rect x="329.06" y="282.2" width="4.2" height="4.2" fill="#000000"/><rect x="330.72" y="330.4" width="4.2" height="4.2" fill="#000000"/><rect x="332.38" y="329.9" width="4.2" height="4.2" fill="#000000"/><rect x="334.04" y="329.7" width="4.2" height="4.2" fill="#000000"/><rect x="335.7" y="329.7" width="4.2" height="4.2" fill="#000000"/><rect x="352.3" y="328.4" width="4.2" height="4.2" fill="#000000"/><rect x="377.2" y="329.5" width="4.2" height="4.2" fill="#000000"/><rect x="402.1" y="328.6" width="4.2" height="4.2" fill="#000000"/><rect x="427" y="329.5" width="4.2" height="4.2" fill="#000000"/><rect x="451.9" y="329.2" width="4.2" height="4.2" fill="#000000"/><rect x="476.8" y="327" width="4.2" height="4.2" fill="#000000"/><rect x="501.7" y="330.8" width="4.2" height="4.2" fill="#000000"/><rect x="526.6" y="328.6" width="4.2" height="4.2" fill="#000000"/><polyline points="331.16,229 332.82,230.8 334.48,235 336.14,236.3 337.8,237.5 354.4,241.4 379.3,241.8 404.2,243.4 429.1,245 454,244.3 478.9,244 503.8,244.3 528.7,244.6" fill="none" stroke="#ff7070" stroke-width="0.9"/><circle cx="331.16" cy="229" r="2.21" fill="#ff0000"/><circle cx="332.82" cy="230.8" r="2.21" fill="#ff0000"/><circle cx="334.48" cy="235" r="2.21" fill="#ff0000"/><circle cx="336.14" cy="236.3" r="2.21" fill="#ff0000"/><circle cx="337.8" cy="237.5" r="2.21" fill="#ff0000"/><circle cx="354.4" cy="241.4" r="2.21" fill="#ff0000"/><circle cx="379.3" cy="241.8" r="2.21" fill="#ff0000"/><circle cx="404.2" cy="243.4" r="2.21" fill="#ff0000"/><circle cx="429.1" cy="245" r="2.21" fill="#ff0000"/><circle cx="454" cy="244.3" r="2.21" fill="#ff0000"/><circle cx="478.9" cy="244" r="2.21" fill="#ff0000"/><circle cx="503.8" cy="244.3" r="2.21" fill="#ff0000"/><circle cx="528.7" cy="244.6" r="2.21" fill="#ff0000"/><polyline points="331.16,314.5 332.82,361.3 334.48,373.3 336.14,374.2 337.8,370.9 354.4,361.3 379.3,360.9 404.2,353 429.1,360 454,358.7 478.9,353.9 503.8,348.2 528.7,346" fill="none" stroke="#6868ff" stroke-width="0.9"/><path d="M331.16 312.19L333.47 316.39L328.85 316.39Z" fill="#0000ff"/><path d="M332.82 358.99L335.13 363.19L330.51 363.19Z" fill="#0000ff"/><path d="M334.48 370.99L336.79 375.19L332.17 375.19Z" fill="#0000ff"/><path d="M336.14 371.89L338.45 376.09L333.83 376.09Z" fill="#0000ff"/><path d="M337.8 368.59L340.11 372.79L335.49 372.79Z" fill="#0000ff"/><path d="M354.4 358.99L356.71 363.19L352.09 363.19Z" fill="#0000ff"/><path d="M379.3 358.59L381.61 362.79L376.99 362.79Z" fill="#0000ff"/><path d="M404.2 350.69L406.51 354.89L401.89 354.89Z" fill="#0000ff"/><path d="M429.1 357.69L431.41 361.89L426.79 361.89Z" fill="#0000ff"/><path d="M454 356.39L456.31 360.59L451.69 360.59Z" fill="#0000ff"/><path d="M478.9 351.59L481.21 355.79L476.59 355.79Z" fill="#0000ff"/><path d="M503.8 345.89L506.11 350.09L501.49 350.09Z" fill="#0000ff"/><path d="M528.7 343.69L531.01 347.89L526.39 347.89Z" fill="#0000ff"/><polyline points="331.16,248.3 332.82,249.5 334.48,250.7 336.14,252 337.8,252.5 354.4,252.8 379.3,254.5 404.2,257 429.1,256.1 454,256.7 478.9,257 503.8,257.4 528.7,257.7" fill="none" stroke="#ff55ff" stroke-width="0.9"/><path d="M331.16 250.61L333.47 246.41L328.85 246.41Z" fill="#ff00ff"/><path d="M332.82 251.81L335.13 247.61L330.51 247.61Z" fill="#ff00ff"/><path d="M334.48 253.01L336.79 248.81L332.17 248.81Z" fill="#ff00ff"/><path d="M336.14 254.31L338.45 250.11L333.83 250.11Z" fill="#ff00ff"/><path d="M337.8 254.81L340.11 250.61L335.49 250.61Z" fill="#ff00ff"/><path d="M354.4 255.11L356.71 250.91L352.09 250.91Z" fill="#ff00ff"/><path d="M379.3 256.81L381.61 252.61L376.99 252.61Z" fill="#ff00ff"/><path d="M404.2 259.31L406.51 255.11L401.89 255.11Z" fill="#ff00ff"/><path d="M429.1 258.41L431.41 254.21L426.79 254.21Z" fill="#ff00ff"/><path d="M454 259.01L456.31 254.81L451.69 254.81Z" fill="#ff00ff"/><path d="M478.9 259.31L481.21 255.11L476.59 255.11Z" fill="#ff00ff"/><path d="M503.8 259.71L506.11 255.51L501.49 255.51Z" fill="#ff00ff"/><path d="M528.7 260.01L531.01 255.81L526.39 255.81Z" fill="#ff00ff"/><polyline points="331.16,245.9 332.82,268 334.48,285.7 336.14,298.7 337.8,306.7 354.4,324.7 379.3,336.1 404.2,341.8 429.1,353 454,356.1 478.9,364.1 503.8,379 528.7,373.6" fill="none" stroke="#60b870" stroke-width="0.9"/><path d="M331.16 243.17L333.89 245.9L331.16 248.63L328.43 245.9Z" fill="#008000"/><path d="M332.82 265.27L335.55 268L332.82 270.73L330.09 268Z" fill="#008000"/><path d="M334.48 282.97L337.21 285.7L334.48 288.43L331.75 285.7Z" fill="#008000"/><path d="M336.14 295.97L338.87 298.7L336.14 301.43L333.41 298.7Z" fill="#008000"/><path d="M337.8 303.97L340.53 306.7L337.8 309.43L335.07 306.7Z" fill="#008000"/><path d="M354.4 321.97L357.13 324.7L354.4 327.43L351.67 324.7Z" fill="#008000"/><path d="M379.3 333.37L382.03 336.1L379.3 338.83L376.57 336.1Z" fill="#008000"/><path d="M404.2 339.07L406.93 341.8L404.2 344.53L401.47 341.8Z" fill="#008000"/><path d="M429.1 350.27L431.83 353L429.1 355.73L426.37 353Z" fill="#008000"/><path d="M454 353.37L456.73 356.1L454 358.83L451.27 356.1Z" fill="#008000"/><path d="M478.9 361.37L481.63 364.1L478.9 366.83L476.17 364.1Z" fill="#008000"/><path d="M503.8 376.27L506.53 379L503.8 381.73L501.07 379Z" fill="#008000"/><path d="M528.7 370.87L531.43 373.6L528.7 376.33L525.97 373.6Z" fill="#008000"/><rect x="313.05" y="212.75" width="232.15" height="171.75" fill="none" stroke="#4a4a4a" stroke-width="1"/><line x1="312.9" y1="384.5" x2="312.9" y2="386.5" stroke="#4a4a4a" stroke-width="1"/><line x1="329.5" y1="384.5" x2="329.5" y2="387.5" stroke="#4a4a4a" stroke-width="1"/><text x="329.5" y="395.6" font-family='"Liberation Serif", serif' font-size="7.2" text-anchor="middle" font-weight="normal" fill="#222">0</text><line x1="346.1" y1="384.5" x2="346.1" y2="386.5" stroke="#4a4a4a" stroke-width="1"/><line x1="362.7" y1="384.5" x2="362.7" y2="387.5" stroke="#4a4a4a" stroke-width="1"/><text x="362.7" y="395.6" font-family='"Liberation Serif", serif' font-size="7.2" text-anchor="middle" font-weight="normal" fill="#222">20</text><line x1="379.3" y1="384.5" x2="379.3" y2="386.5" stroke="#4a4a4a" stroke-width="1"/><line x1="395.9" y1="384.5" x2="395.9" y2="387.5" stroke="#4a4a4a" stroke-width="1"/><text x="395.9" y="395.6" font-family='"Liberation Serif", serif' font-size="7.2" text-anchor="middle" font-weight="normal" fill="#222">40</text><line x1="412.5" y1="384.5" x2="412.5" y2="386.5" stroke="#4a4a4a" stroke-width="1"/><line x1="429.1" y1="384.5" x2="429.1" y2="387.5" stroke="#4a4a4a" stroke-width="1"/><text x="429.1" y="395.6" font-family='"Liberation Serif", serif' font-size="7.2" text-anchor="middle" font-weight="normal" fill="#222">60</text><line x1="445.7" y1="384.5" x2="445.7" y2="386.5" stroke="#4a4a4a" stroke-width="1"/><line x1="462.3" y1="384.5" x2="462.3" y2="387.5" stroke="#4a4a4a" stroke-width="1"/><text x="462.3" y="395.6" font-family='"Liberation Serif", serif' font-size="7.2" text-anchor="middle" font-weight="normal" fill="#222">80</text><line x1="478.9" y1="384.5" x2="478.9" y2="386.5" stroke="#4a4a4a" stroke-width="1"/><line x1="495.5" y1="384.5" x2="495.5" y2="387.5" stroke="#4a4a4a" stroke-width="1"/><text x="495.5" y="395.6" font-family='"Liberation Serif", serif' font-size="7.2" text-anchor="middle" font-weight="normal" fill="#222">100</text><line x1="512.1" y1="384.5" x2="512.1" y2="386.5" stroke="#4a4a4a" stroke-width="1"/><line x1="528.7" y1="384.5" x2="528.7" y2="387.5" stroke="#4a4a4a" stroke-width="1"/><text x="528.7" y="395.6" font-family='"Liberation Serif", serif' font-size="7.2" text-anchor="middle" font-weight="normal" fill="#222">120</text><line x1="545.3" y1="384.5" x2="545.3" y2="386.5" stroke="#4a4a4a" stroke-width="1"/><line x1="311.05" y1="382.17" x2="313.05" y2="382.17" stroke="#4a4a4a" stroke-width="1"/><line x1="311.05" y1="378.65" x2="313.05" y2="378.65" stroke="#4a4a4a" stroke-width="1"/><line x1="311.05" y1="375.6" x2="313.05" y2="375.6" stroke="#4a4a4a" stroke-width="1"/><line x1="311.05" y1="372.91" x2="313.05" y2="372.91" stroke="#4a4a4a" stroke-width="1"/><line x1="310.05" y1="370.5" x2="313.05" y2="370.5" stroke="#4a4a4a" stroke-width="1"/><text x="307.2" y="373.02" font-family='"Liberation Serif", serif' font-size="7.2" text-anchor="end" font-weight="normal" fill="#222">0.01</text><line x1="311.05" y1="354.67" x2="313.05" y2="354.67" stroke="#4a4a4a" stroke-width="1"/><line x1="311.05" y1="345.4" x2="313.05" y2="345.4" stroke="#4a4a4a" stroke-width="1"/><line x1="311.05" y1="338.83" x2="313.05" y2="338.83" stroke="#4a4a4a" stroke-width="1"/><line x1="311.05" y1="333.73" x2="313.05" y2="333.73" stroke="#4a4a4a" stroke-width="1"/><line x1="311.05" y1="329.57" x2="313.05" y2="329.57" stroke="#4a4a4a" stroke-width="1"/><line x1="311.05" y1="326.05" x2="313.05" y2="326.05" stroke="#4a4a4a" stroke-width="1"/><line x1="311.05" y1="323" x2="313.05" y2="323" stroke="#4a4a4a" stroke-width="1"/><line x1="311.05" y1="320.31" x2="313.05" y2="320.31" stroke="#4a4a4a" stroke-width="1"/><line x1="310.05" y1="317.9" x2="313.05" y2="317.9" stroke="#4a4a4a" stroke-width="1"/><text x="307.2" y="320.42" font-family='"Liberation Serif", serif' font-size="7.2" text-anchor="end" font-weight="normal" fill="#222">0.1</text><line x1="311.05" y1="302.07" x2="313.05" y2="302.07" stroke="#4a4a4a" stroke-width="1"/><line x1="311.05" y1="292.8" x2="313.05" y2="292.8" stroke="#4a4a4a" stroke-width="1"/><line x1="311.05" y1="286.23" x2="313.05" y2="286.23" stroke="#4a4a4a" stroke-width="1"/><line x1="311.05" y1="281.13" x2="313.05" y2="281.13" stroke="#4a4a4a" stroke-width="1"/><line x1="311.05" y1="276.97" x2="313.05" y2="276.97" stroke="#4a4a4a" stroke-width="1"/><line x1="311.05" y1="273.45" x2="313.05" y2="273.45" stroke="#4a4a4a" stroke-width="1"/><line x1="311.05" y1="270.4" x2="313.05" y2="270.4" stroke="#4a4a4a" stroke-width="1"/><line x1="311.05" y1="267.71" x2="313.05" y2="267.71" stroke="#4a4a4a" stroke-width="1"/><line x1="310.05" y1="265.3" x2="313.05" y2="265.3" stroke="#4a4a4a" stroke-width="1"/><text x="307.2" y="267.82" font-family='"Liberation Serif", serif' font-size="7.2" text-anchor="end" font-weight="normal" fill="#222">1</text><line x1="311.05" y1="249.47" x2="313.05" y2="249.47" stroke="#4a4a4a" stroke-width="1"/><line x1="311.05" y1="240.2" x2="313.05" y2="240.2" stroke="#4a4a4a" stroke-width="1"/><line x1="311.05" y1="233.63" x2="313.05" y2="233.63" stroke="#4a4a4a" stroke-width="1"/><line x1="311.05" y1="228.53" x2="313.05" y2="228.53" stroke="#4a4a4a" stroke-width="1"/><line x1="311.05" y1="224.37" x2="313.05" y2="224.37" stroke="#4a4a4a" stroke-width="1"/><line x1="311.05" y1="220.85" x2="313.05" y2="220.85" stroke="#4a4a4a" stroke-width="1"/><line x1="311.05" y1="217.8" x2="313.05" y2="217.8" stroke="#4a4a4a" stroke-width="1"/><line x1="311.05" y1="215.11" x2="313.05" y2="215.11" stroke="#4a4a4a" stroke-width="1"/><line x1="310.05" y1="212.7" x2="313.05" y2="212.7" stroke="#4a4a4a" stroke-width="1"/><text x="307.2" y="215.22" font-family='"Liberation Serif", serif' font-size="7.2" text-anchor="end" font-weight="normal" fill="#222">10</text><text x="290.8" y="298.4" font-family='"Liberation Serif", serif' font-size="8.8" text-anchor="middle" fill="#222" transform="rotate(-90 290.8 298.4)">IFT (mN/m)</text><text x="429.5" y="409.1" font-family='"Liberation Serif", serif' font-size="8.8" text-anchor="middle" font-weight="normal" fill="#222">Time (min)</text><text x="317.4" y="222.2" font-family='"Liberation Serif", serif' font-size="9.8" text-anchor="start" font-weight="bold" fill="#222">(d)</text><path d="M763 0L583 0L583 1147Q518 1085 412 1023Q307 961 223 930L223 1104Q374 1175 487 1276Q600 1377 647 1472L763 1472Z" transform="translate(504 231.2) scale(0.004346 -0.004346)" fill="#222" stroke="#222" stroke-width="34.52"/><text x="508.95" y="231.2" font-family='"Liberation Sans", sans-serif' font-size="8.9" text-anchor="start" font-weight="normal" fill="#222" stroke="#222" stroke-width="0.15">#–5#</text><line x1="351.8" y1="219.9" x2="368.2" y2="219.9" stroke="#9a9a9a" stroke-width="0.9"/><rect x="357.9" y="217.8" width="4.2" height="4.2" fill="#000000"/><text x="371" y="222.64" font-family='"Liberation Serif", serif' font-size="7.6" text-anchor="start" font-weight="normal" fill="#222">1#</text><line x1="379.1" y1="219.9" x2="395.5" y2="219.9" stroke="#ff8c8c" stroke-width="0.9"/><circle cx="387.3" cy="219.9" r="2.21" fill="#ff0000"/><text x="397.5" y="222.64" font-family='"Liberation Serif", serif' font-size="7.6" text-anchor="start" font-weight="normal" fill="#222">2#</text><line x1="405.5" y1="219.9" x2="422.7" y2="219.9" stroke="#8c8cff" stroke-width="0.9"/><path d="M414.1 217.59L416.41 221.79L411.79 221.79Z" fill="#0000ff"/><text x="424.2" y="222.64" font-family='"Liberation Serif", serif' font-size="7.6" text-anchor="start" font-weight="normal" fill="#222">3#</text><line x1="351.8" y1="229.4" x2="368.2" y2="229.4" stroke="#ff66ff" stroke-width="0.9"/><path d="M360 231.71L362.31 227.51L357.69 227.51Z" fill="#ff00ff"/><text x="371" y="232.14" font-family='"Liberation Serif", serif' font-size="7.6" text-anchor="start" font-weight="normal" fill="#222">4#</text><line x1="379.1" y1="229.4" x2="395.5" y2="229.4" stroke="#6cc070" stroke-width="0.9"/><path d="M387.3 226.67L390.03 229.4L387.3 232.13L384.57 229.4Z" fill="#008000"/><text x="397.5" y="232.14" font-family='"Liberation Serif", serif' font-size="7.6" text-anchor="start" font-weight="normal" fill="#222">5#</text></svg>
</body></html>
